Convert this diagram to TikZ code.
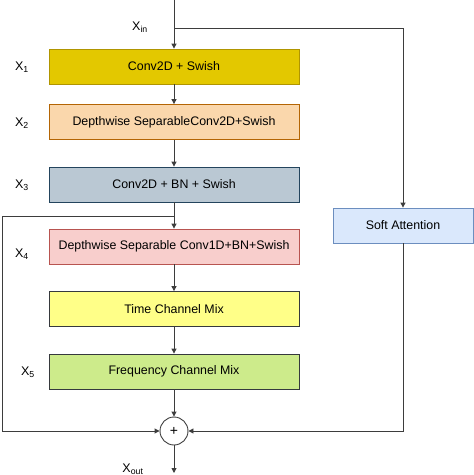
\documentclass[tikz,border=0pt]{standalone}
\usepackage{fontspec}
\setmainfont{Liberation Sans}
\usetikzlibrary{arrows.meta}

\definecolor{convY}{HTML}{E3C800}
\definecolor{convYline}{HTML}{B09500}
\definecolor{dwOrange}{HTML}{FAD7AC}
\definecolor{dwOrangeline}{HTML}{B46504}
\definecolor{bnGray}{HTML}{BAC8D3}
\definecolor{bnGrayline}{HTML}{23445D}
\definecolor{dwRed}{HTML}{F8CECC}
\definecolor{dwRedline}{HTML}{B85450}
\definecolor{timeY}{HTML}{FFFF88}
\definecolor{freqG}{HTML}{CDEB8B}
\definecolor{mixline}{HTML}{36393D}
\definecolor{attBlue}{HTML}{DAE8FC}
\definecolor{attBlueline}{HTML}{6C8EBF}
\definecolor{wire}{HTML}{3D3D3D}

\tikzset{
  layer/.style={draw, line width=0.8pt, minimum width=250pt, minimum height=35pt,
    inner sep=0pt, font=\fontsize{12.4}{14}\selectfont},
  wire/.style={draw=wire, line width=0.9pt},
  flow/.style={wire, -{Triangle[width=5pt,length=5pt]}},
  tag/.style={font=\fontsize{12.5}{14}\selectfont, inner sep=0pt}
}

\begin{document}
\begin{tikzpicture}[x=1pt, y=-1pt]
  \useasboundingbox (0,0) rectangle (474,475);

  % main stack
  \node[layer, fill=convY, draw=convYline] (conv) at (174,66.5) {Conv2D + Swish};
  \node[layer, fill=dwOrange, draw=dwOrangeline] (dwconv) at (174,122) {Depthwise SeparableConv2D+Swish};
  \node[layer, fill=bnGray, draw=bnGrayline] (convbn) at (174,184.5) {Conv2D + BN + Swish};
  \node[layer, fill=dwRed, draw=dwRedline] (dwconvbn) at (174,246.5) {Depthwise Separable Conv1D+BN+Swish};
  \node[layer, fill=timeY, draw=mixline] (timemix) at (174,309) {Time Channel Mix};
  \node[layer, fill=freqG, draw=mixline] (freqmix) at (174,371.5) {Frequency Channel Mix};

  % attention branch
  \node[layer, minimum width=140pt, fill=attBlue, draw=attBlueline] (att) at (403,225.5) {Soft Attention};

  % sum
  \node[draw=wire, line width=0.9pt, circle, minimum size=28pt, inner sep=0pt, fill=white,
    font=\fontsize{14}{14}\selectfont] (plus) at (174,431) {+};

  % labels
  \node[tag] (xin) at (140,27) {X\textsubscript{in}};
  \node[tag] (x1) at (22,67) {X\textsubscript{1}};
  \node[tag] (x2) at (22,123) {X\textsubscript{2}};
  \node[tag] (x3) at (22,185) {X\textsubscript{3}};
  \node[tag] (x4) at (22,254) {X\textsubscript{4}};
  \node[tag] (x5) at (28,372) {X\textsubscript{5}};
  \node[tag] (xout) at (133,469) {X\textsubscript{out}};

  \coordinate (input) at (174,0);
  \coordinate (split) at (174,28);
  \coordinate (skip) at (174,216);
  \coordinate (skipleft) at (2,216);
  \coordinate (output) at (174,473);

  % connectors
  \draw[flow] (input) -- (conv);
  \draw[flow] (conv) -- (dwconv);
  \draw[flow] (dwconv) -- (convbn);
  \draw[flow] (convbn) -- (dwconvbn);
  \draw[flow] (dwconvbn) -- (timemix);
  \draw[flow] (timemix) -- (freqmix);
  \draw[flow] (freqmix) -- (plus);
  \draw[flow] (plus) -- (output);
  \draw[flow] (split) -| (att.north);
  \draw[flow] (att.south) |- (plus.east);
  \draw[flow] (skip) -- (skipleft) |- (plus.west);
\end{tikzpicture}
\end{document}
